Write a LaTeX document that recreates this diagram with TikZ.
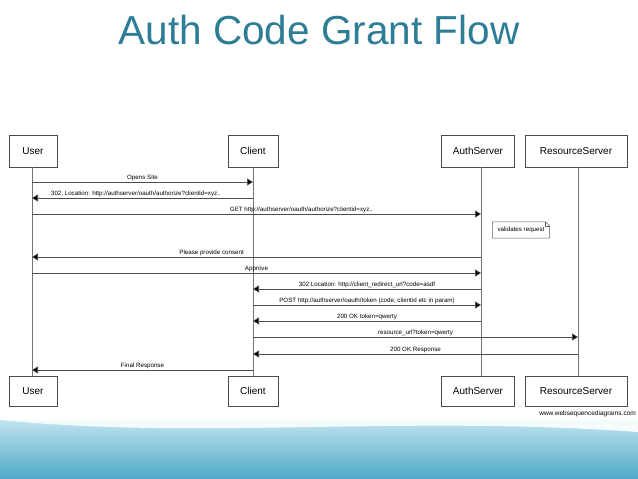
\documentclass[tikz,border=0pt]{standalone}
\usepackage{fontspec}
\setmainfont{Liberation Sans}
\usetikzlibrary{arrows.meta}
\definecolor{teal1}{HTML}{2E7D96}
\definecolor{wave1}{HTML}{4FA8C8}
\definecolor{wave2}{HTML}{BFE3F0}
\begin{document}
\begin{tikzpicture}[x=1pt,y=-1pt,
  actor/.style={draw=black!70,fill=white,minimum height=32pt,inner sep=2pt,font=\fontsize{10}{12}\selectfont,anchor=center},
  life/.style={draw=black!55,line width=0.6pt},
  msg/.style={draw=black!70,line width=0.6pt,-{Triangle[length=6pt,width=7pt,fill=black]}},
  lbl/.style={font=\fontsize{6.2}{7}\selectfont,above=-0.5pt,inner sep=1pt},
  notetxt/.style={font=\fontsize{6.2}{7}\selectfont,inner xsep=5pt,inner ysep=5pt}]
\useasboundingbox (0,0) rectangle (638,479);
\fill[white] (0,0) rectangle (638,479);
\shade[top color=wave2,bottom color=wave1] (0,420) rectangle (638,479);
\fill[white!85!wave2] (0,420) .. controls (200,440) and (400,415) .. (638,432) -- (638,420) -- cycle;
\node[teal1,font=\fontsize{40.5}{44}\selectfont] (title) at (319,30) {Auth Code Grant Flow};
% actors
\node[actor,minimum width=48pt] (u1) at (33,151) {User};
\node[actor,minimum width=50pt] (c1) at (253,151) {Client};
\node[actor,minimum width=73pt] (a1) at (478,151) {AuthServer};
\node[actor,minimum width=102pt] (r1) at (576,151) {ResourceServer};
\node[actor,minimum width=48pt,minimum height=30pt] (u2) at (33,391) {User};
\node[actor,minimum width=50pt,minimum height=30pt] (c2) at (253,391) {Client};
\node[actor,minimum width=73pt,minimum height=30pt] (a2) at (478,391) {AuthServer};
\node[actor,minimum width=102pt,minimum height=30pt] (r2) at (576,391) {ResourceServer};
\draw[life] (32,167) -- (32,376);
\draw[life] (253,167) -- (253,376);
\draw[life] (481,167) -- (481,376);
\draw[life] (578,167) -- (578,376);
% messages
\draw[msg] (32,182) -- node[lbl]{Opens Site} (253,182);
\draw[msg] (253,198) -- node[lbl,pos=0.53]{302, Location: http://authserver/oauth/authorize?clientid=xyz..} (32,198);
\draw[msg] (32,214) -- node[lbl,pos=0.6]{GET http://authserver/oauth/authorize?clientid=xyz..} (481,214);
\node[notetxt] (note) at (521,230) {validates request};
\draw[black!60,fill=white] (note.south west) -- (note.north west) -- ([xshift=-4pt]note.north east) -- ([yshift=-4pt]note.north east) -- (note.south east) -- cycle;
\draw[black!60] ([xshift=-4pt]note.north east) -- ([xshift=-4pt,yshift=-4pt]note.north east) -- ([yshift=-4pt]note.north east);
\node[notetxt] at (note) {validates request};
\draw[msg] (481,257) -- node[lbl,pos=0.6]{Please provide consent} (32,257);
\draw[msg] (32,273) -- node[lbl]{Approve} (481,273);
\draw[msg] (481,289) -- node[lbl]{302 Location: http://client\_redirect\_url?code=asdf} (253,289);
\draw[msg] (253,305) -- node[lbl]{POST http://authserver/oauth/token (code, clientid etc in param)} (481,305);
\draw[msg] (481,321) -- node[lbl]{200 OK token=qwerty} (253,321);
\draw[msg] (253,337) -- node[lbl]{resource\_url?token=qwerty} (578,337);
\draw[msg] (578,354) -- node[lbl]{200 OK Response} (253,354);
\draw[msg] (253,370) -- node[lbl]{Final Response} (32,370);
\node[font=\fontsize{6.5}{7}\selectfont,anchor=east,inner sep=1pt] (ws) at (637,414) {www.websequencediagrams.com};
\end{tikzpicture}
\end{document}
